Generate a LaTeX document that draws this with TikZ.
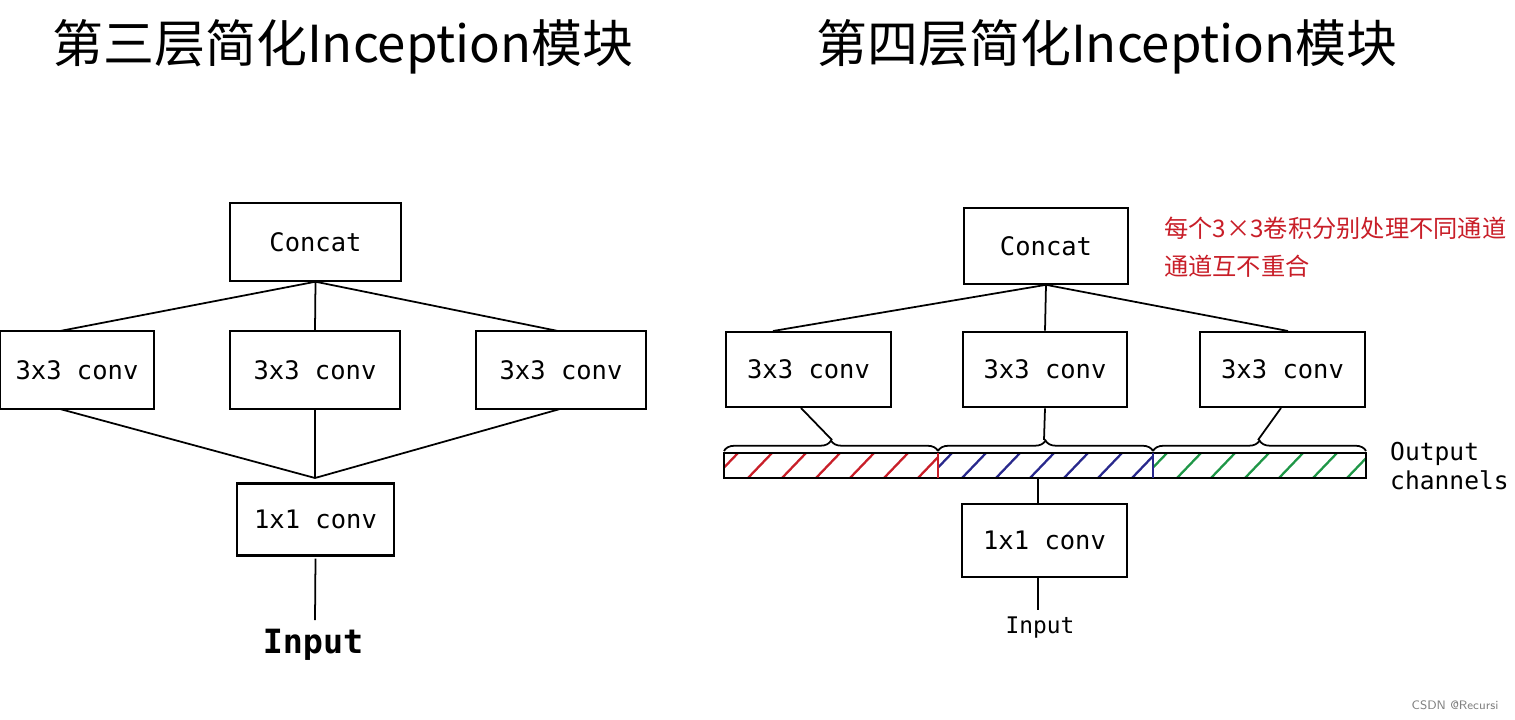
\documentclass[tikz,border=0pt]{standalone}
\usepackage{fontspec}
\setmainfont{DejaVu Sans Mono}
\newfontfamily\cjk{Noto Sans CJK SC}
\usetikzlibrary{decorations.pathreplacing}
\definecolor{hred}{RGB}{200,30,40}
\definecolor{hblue}{RGB}{40,40,140}
\definecolor{hgreen}{RGB}{30,150,70}
\begin{document}
\begin{tikzpicture}[x=0.02cm,y=-0.02cm,
  box/.style={draw,line width=1.2pt,minimum width=#1*0.567pt,inner sep=0pt,font=\fontsize{14.5}{16}\selectfont},
  ln/.style={line width=1pt},
  title/.style={font=\cjk\fontsize{29}{32}\selectfont},
  note/.style={font=\cjk\fontsize{13.8}{16}\selectfont,text=hred,anchor=west}]
\useasboundingbox (0,0) rectangle (1515,720);
% titles
\node[title] (t1) at (343,47) {第三层简化Inception模块};
\node[title] (t2) at (1107,47) {第四层简化Inception模块};
% left
\node[box=171,minimum height=44pt] (lc) at (315.5,242) {Concat};
\node[box=155,minimum height=44pt] (la) at (77,370) {3x3 conv};
\node[box=170,minimum height=44pt] (lb) at (315,370) {3x3 conv};
\node[box=170,minimum height=44pt] (lr) at (561,370) {3x3 conv};
\node[box=157,minimum height=41pt] (l1) at (315.5,519.5) {1x1 conv};
\coordinate (lj) at (315,478);
\node[font=\bfseries\fontsize{19}{22}\selectfont] (lin) at (313,645) {Input};
\draw[ln] (lc.south) -- (60,331) (lc.south) -- (lb.north) (lc.south) -- (558,331);
\draw[ln] (60,409) -- (lj) (lb.south) -- (lj) (560,409) -- (lj);
\draw[ln] (l1.south) ++(0,2) -- (315,620);
% right
\node[box=164,minimum height=43pt] (rc) at (1046,246) {Concat};
\node[box=165,minimum height=43pt] (ra) at (808.5,369.5) {3x3 conv};
\node[box=164,minimum height=43pt] (rb) at (1045,369.5) {3x3 conv};
\node[box=165,minimum height=43pt] (rr) at (1282.5,369.5) {3x3 conv};
\node[box=165,minimum height=42pt] (r1) at (1044.5,540.5) {1x1 conv};
\node[font=\fontsize{13}{15}\selectfont] (rin) at (1040,628) {Input};
\draw[ln] (rc.south) -- (773,331) (rc.south) -- (rb.north) (rc.south) -- (1288,331);
% bar with hatch
\foreach \a/\b/\c in {724/938/hred,938/1153/hblue,1153/1366/hgreen}{
  \begin{scope}
  \clip (\a,453) rectangle (\b,478);
  \foreach \k in {0,...,7}{\draw[\c,line width=1.3pt] (\a+\k*34-10,478) -- (\a+\k*34+14,453);}
  \end{scope}}
\draw[line width=1.4pt] (724,453) rectangle (1366,478);
\draw[hred,line width=1.2pt] (938,453) -- (938,478);
\draw[hblue,line width=1.2pt] (1153,453) -- (1153,478);
\draw[line width=1pt,decorate,decoration={brace,amplitude=6pt}] (724,451) -- (938,451);
\draw[line width=1pt,decorate,decoration={brace,amplitude=6pt}] (938,451) -- (1153,451);
\draw[line width=1pt,decorate,decoration={brace,amplitude=6pt}] (1153,451) -- (1366,451);
\draw[ln] (801,408) -- (832,440) (rb.south) -- (1044,440) (1281,408) -- (1258,440);
\coordinate (bb) at (1038,478);
\draw[ln] (bb) -- (r1.north-|bb);
\draw[ln] (r1.south-|bb) -- (1038,610);
\node[anchor=west,align=left,font=\fontsize{14}{16.5}\selectfont] (oc) at (1384,466) {Output\\channels};
\node[note] (n1) at (1158,228) {每个3×3卷积分别处理不同通道};
\node[note] (n2) at (1158,266) {通道互不重合};
\node[font=\sffamily\fontsize{7}{8}\selectfont,text=gray] (wm) at (1455,705) {CSDN @Recursi};
\end{tikzpicture}
\end{document}
